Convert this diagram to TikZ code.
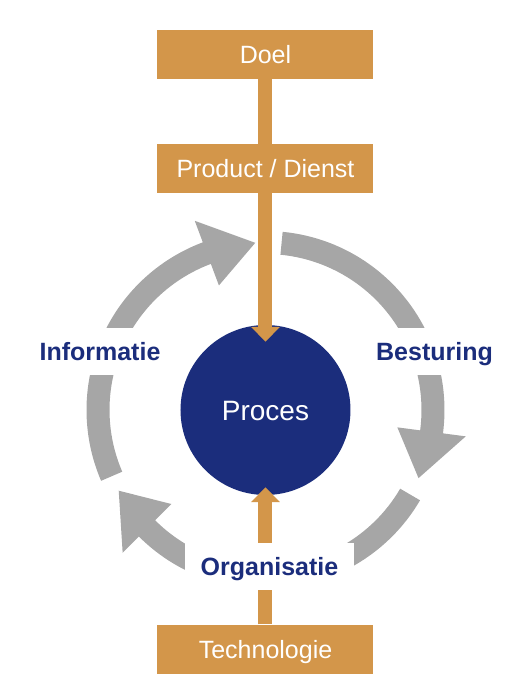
\documentclass[tikz,border=0pt]{standalone}
\usepackage{fontspec}
\setmainfont{Liberation Sans}
\usetikzlibrary{arrows.meta}
\definecolor{oranje}{HTML}{D3964A}
\definecolor{navy}{HTML}{1B2D7C}
\colorlet{ringcol}{black!35}
\tikzstyle{box}=[rectangle, fill=oranje, text=white, minimum width=216pt, minimum height=49pt, inner sep=0pt, text height=18pt, text depth=0pt, font=\fontsize{25}{30}\selectfont]
\tikzstyle{aspect}=[rectangle, fill=white, text=navy, minimum height=47pt, inner xsep=16pt, inner ysep=0pt, text height=18pt, text depth=0pt, font=\bfseries\fontsize{25}{30}\selectfont]
\tikzstyle{bar}=[line width=14pt, oranje]
\tikzstyle{ring}=[fill=ringcol]

\begin{document}
\begin{tikzpicture}[x=1pt, y=1pt]
	\useasboundingbox (-265.5,-279) rectangle (250.5,410);

	% Cycle arrows
	\fill[ring] (203.3:179pt) arc[start angle=203.3, end angle=110.5, radius=179pt] -- (110.5:202pt) -- (93.5:167.5pt) -- (110.5:133pt) -- (110.5:156pt) arc[start angle=110.5, end angle=203.3, radius=156pt] -- cycle;
	\fill[ring] (84.5:179pt) arc[start angle=84.5, end angle=-7.5, radius=179pt] -- (-7.5:202pt) -- (-24:167.5pt) -- (-7.5:133pt) -- (-7.5:156pt) arc[start angle=-7.5, end angle=84.5, radius=156pt] -- cycle;
	\fill[ring] (-30.3:179pt) arc[start angle=-30.3, end angle=-90, radius=179pt] -- (-90:156pt) arc[start angle=-90, end angle=-30.3, radius=156pt] -- cycle;
	\fill[ring] (270:179pt) arc[start angle=270, end angle=225, radius=179pt] -- (225:202pt) -- (208.8:167.5pt) -- (225:133pt) -- (225:156pt) arc[start angle=225, end angle=270, radius=156pt] -- cycle;

	% Centre
	\node[circle, fill=navy, minimum size=170pt, inner sep=0pt, text=white, text height=20pt, text depth=0pt, font=\fontsize{28}{34}\selectfont] (proces) at (0,0) {Proces};

	% Boxes
	\node[box] (doel) at (0,355.5) {Doel};
	\node[box] (product) at (0,241.5) {Product / Dienst};
	\node[box] (tech) at (0,-239) {Technologie};

	% Bars
	\draw[bar] (doel)--(product);
	\draw[bar, -{Triangle[width=28pt,length=15pt]}, shorten >=-17pt] (product)--(proces);
	\draw[bar, -{Triangle[width=28pt,length=15pt]}, shorten >=-8pt] (tech)--(proces);

	% Aspects
	\node[aspect] (info) at (-165.5,58.5) {Informatie};
	\node[aspect] (best) at (169,58.5) {Besturing};
	\node[aspect] (org) at (4,-156.5) {Organisatie};
\end{tikzpicture}
\end{document}
